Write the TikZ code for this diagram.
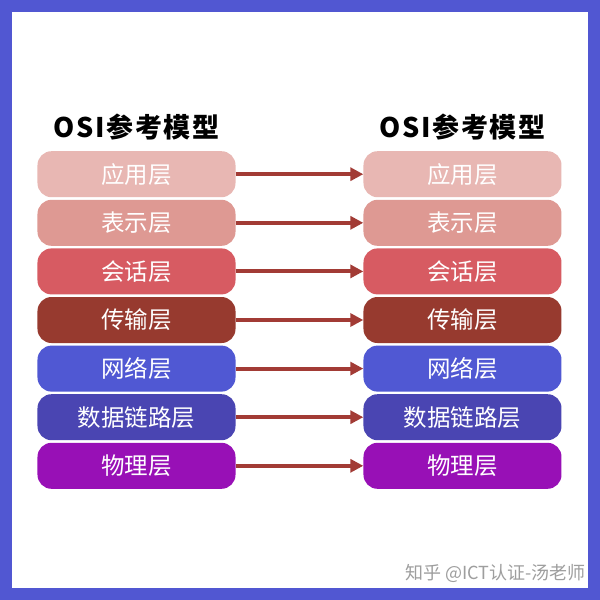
\documentclass[tikz,border=0pt]{standalone}
\usepackage{fontspec}
\newfontfamily\cjk{Noto Sans CJK SC}
\newfontfamily\cjkwide[LetterSpace=6]{Noto Sans CJK SC}
\usetikzlibrary{matrix,positioning,arrows.meta}
\definecolor{frameblue}{HTML}{5157D2}
\definecolor{c1}{HTML}{E8B7B3}
\definecolor{c2}{HTML}{DE9993}
\definecolor{c3}{HTML}{D75B62}
\definecolor{c4}{HTML}{973A2F}
\definecolor{c5}{HTML}{5058D3}
\definecolor{c6}{HTML}{4A45B2}
\definecolor{c7}{HTML}{9810B6}
\definecolor{arrowred}{HTML}{A23B35}

\begin{document}
\begin{tikzpicture}[x=1pt, y=-1pt,
    title/.style={font=\cjkwide\bfseries\fontsize{27}{27}\selectfont, inner sep=0},
    layer arrow/.style={arrowred, line width=4pt, -{Triangle[length=13pt, width=13pt]}},
    watermark/.style={font=\cjk\fontsize{18}{18}\selectfont, text=black!38, inner sep=0}]
     % frame
     \fill[frameblue] (0,0) rectangle (600,600);
     \fill[white] (12,12) rectangle (588,588);
     \matrix (M) at (299.5,320) [matrix of nodes,
        nodes={minimum height=46pt, minimum width=198pt, rounded corners=14pt, inner sep=0, anchor=center, text=white,
               font=\cjk\fontsize{23.5}{23.5}\selectfont},
        column sep=128pt,
        row sep=2.6pt,
        l1/.style={fill=c1},
        l2/.style={fill=c2},
        l3/.style={fill=c3},
        l4/.style={fill=c4},
        l5/.style={fill=c5},
        l6/.style={fill=c6},
        l7/.style={fill=c7}
      ]
      {
        |[l1]| 应用层 & |[l1]| 应用层 \\
        |[l2]| 表示层 & |[l2]| 表示层 \\
        |[l3]| 会话层 & |[l3]| 会话层 \\
        |[l4]| 传输层 & |[l4]| 传输层 \\
        |[l5]| 网络层 & |[l5]| 网络层 \\
        |[l6]| 数据链路层 & |[l6]| 数据链路层 \\
        |[l7]| 物理层 & |[l7]| 物理层 \\
      };
     \node[title, above=11pt of M-1-1] (TL) {OSI参考模型};
     \node[title, above=11pt of M-1-2] (TR) {OSI参考模型};
     \foreach \r in {1,...,7}
        \draw[layer arrow] (M-\r-1.east) -- (M-\r-2.west);
     \node[watermark, anchor=east] (WM) at (586,573) {知乎 @ICT认证-汤老师};
  \end{tikzpicture}
\end{document}
